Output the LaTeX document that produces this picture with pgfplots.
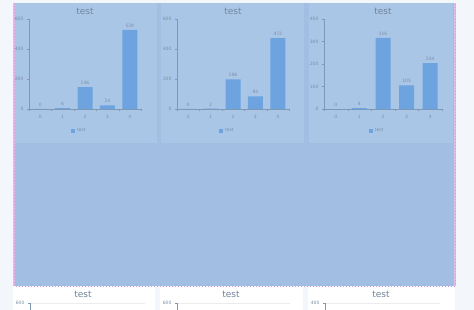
\documentclass[border=0pt]{standalone}
\usepackage{pgfplots}
\pgfplotsset{compat=1.18}
\usepackage{fontspec}
\setmainfont{DejaVu Sans}
\definecolor{pagebg}{HTML}{F3F6FB}
\definecolor{upbg}{HTML}{A9C6E7}
\definecolor{lowbg}{HTML}{A2BFE3}
\definecolor{barcol}{HTML}{6DA4E0}
\definecolor{axcol}{HTML}{7F98B5}
\definecolor{txtcol}{HTML}{7D8EA6}
\definecolor{titcol}{HTML}{72849C}
\definecolor{pinkcol}{HTML}{D49BDC}
\definecolor{pinklt}{HTML}{E3B9E8}
\pgfplotsset{
  chart/.style={
    scale only axis, height=90pt, anchor=south west,
    ybar, bar width=15pt, xmin=-0.5, xmax=4.5, ymin=0,
    axis x line*=bottom, axis y line*=left,
    axis line style={axcol}, tick style={axcol},
    xtick={0,...,4}, major x tick style={draw=none},
    minor xtick={-0.5,0.5,...,4.5}, tick align=outside,
    major tick length=2pt, minor tick length=2pt,
    /pgf/number format/assume math mode=true,
    tick label style={font=\fontsize{4.5}{5}\selectfont, text=txtcol},
    xticklabel style={yshift=-1pt},
    nodes near coords,
    nodes near coords style={font=\fontsize{4.5}{5}\selectfont, text=txtcol, yshift=-1pt},
    title=test,
    title style={at={(0.5,1)}, anchor=south, yshift=-5pt, font=\fontsize{9}{10}\selectfont, text=titcol},
    legend style={at={(0.45,-0.244)}, anchor=center, draw=none, fill=none,
      font=\fontsize{4.5}{5}\selectfont, text=txtcol},
    legend image code/.code={\fill[barcol] (0pt,-1.6pt) rectangle (4pt,1.6pt);},
  }
}
\begin{document}
\begin{tikzpicture}[x=1pt,y=-1pt]
\useasboundingbox (0,0) rectangle (474,310);
\fill[pagebg] (0,0) rectangle (474,310);
% bottom white panels
\fill[white] (13,287) rectangle (155,310);
\fill[white] (160,287) rectangle (303,310);
\fill[white] (308,287) rectangle (455,310);
\node[font=\fontsize{9}{10}\selectfont, text=titcol] at (83,294) {test};
\node[font=\fontsize{9}{10}\selectfont, text=titcol] at (231,294) {test};
\node[font=\fontsize{9}{10}\selectfont, text=titcol] at (381,294) {test};
\node[font=\fontsize{4.5}{5}\selectfont, text=txtcol, anchor=east] at (28,303) {600};
\node[font=\fontsize{4.5}{5}\selectfont, text=txtcol, anchor=east] at (175,303) {600};
\node[font=\fontsize{4.5}{5}\selectfont, text=txtcol, anchor=east] at (323,303) {400};
\draw[gray!15] (30,303) -- (145,303);
\draw[gray!15] (177,303) -- (290,303);
\draw[gray!15] (325,303) -- (440,303);
\draw[axcol] (28,303) -- (30,303) -- (30,310);
\draw[axcol] (175,303) -- (177,303) -- (177,310);
\draw[axcol] (323,303) -- (325,303) -- (325,310);
% overlay
\fill[lowbg] (13,3) rectangle (456,286);
\fill[upbg] (15,3) rectangle (157,143);
\fill[upbg] (161,3) rectangle (304,143);
\fill[upbg] (309,3) rectangle (453,143);
\draw[pinklt, line width=1.6pt] (14,3) -- (14,286);
\draw[pinklt, line width=1.6pt] (455,3) -- (455,286);
\draw[pinkcol, dotted, line width=1pt] (14,3) -- (14,286) -- (455,286) -- (455,3);

\begin{axis}[chart, at={(29pt,-109pt)}, width=112pt, ymax=600, ytick={0,200,400,600}]
\addplot[fill=barcol, draw=none] coordinates {(0,0) (1,6) (2,146) (3,24) (4,528)};
\legend{test}
\end{axis}

\begin{axis}[chart, at={(177pt,-109pt)}, width=112pt, ymax=600, ytick={0,200,400,600}]
\addplot[fill=barcol, draw=none] coordinates {(0,0) (1,2) (2,198) (3,84) (4,472)};
\legend{test}
\end{axis}

\begin{axis}[chart, at={(324pt,-109pt)}, width=118pt, ymax=400, ytick={0,100,200,300,400}]
\addplot[fill=barcol, draw=none] coordinates {(0,0) (1,4) (2,316) (3,105) (4,204)};
\legend{test}
\end{axis}
\end{tikzpicture}
\end{document}
